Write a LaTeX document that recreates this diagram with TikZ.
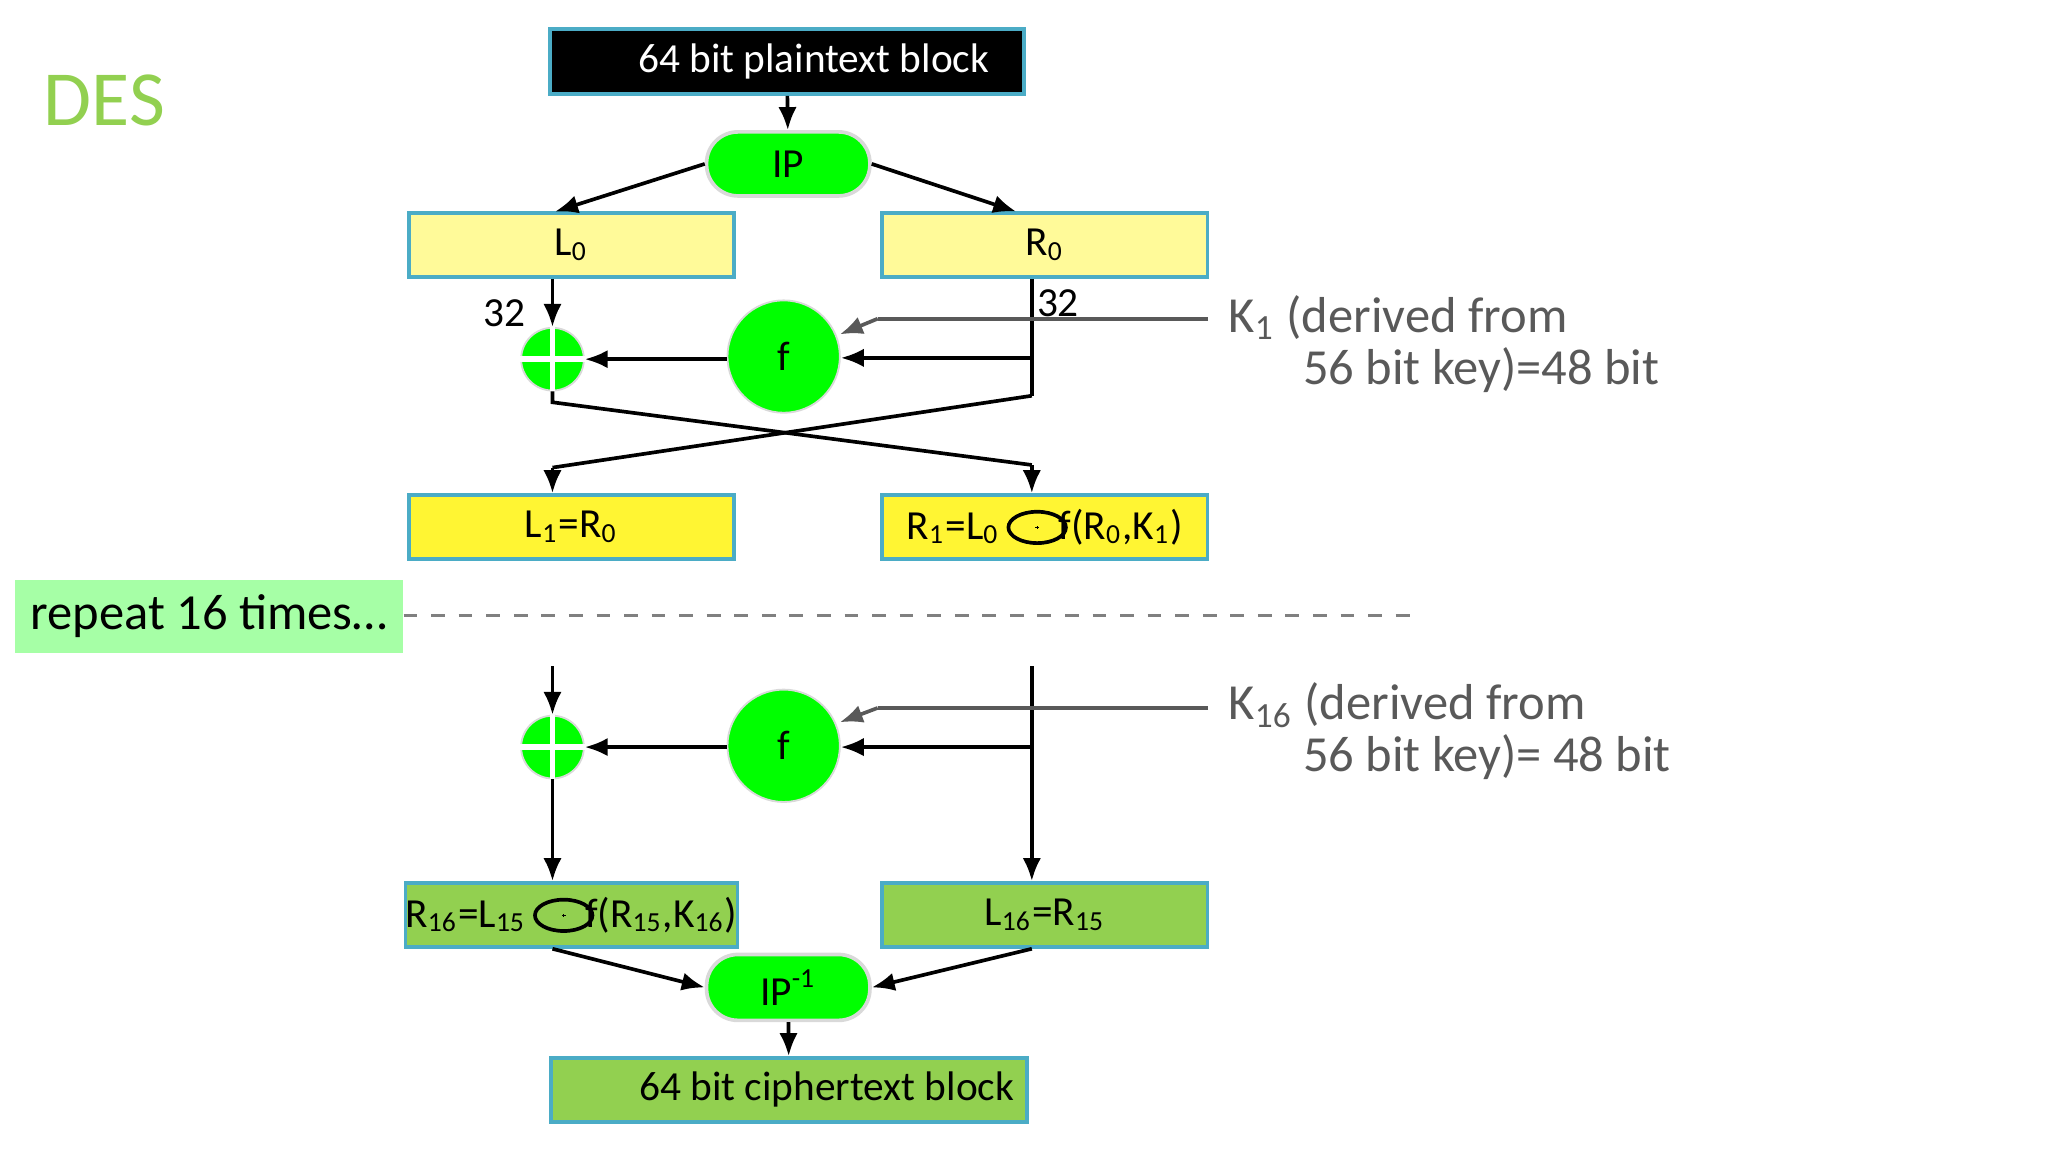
\documentclass[tikz,border=0pt]{standalone}
\usepackage{fontspec}
\setmainfont{Carlito}
\usetikzlibrary{arrows.meta}
\definecolor{desgreen}{HTML}{92D050}
\definecolor{brd}{HTML}{4BACC6}
\definecolor{lime}{HTML}{00FF00}
\definecolor{txtgray}{HTML}{595959}
\newcommand{\xorsym}{\tikz[baseline=-0.6ex]{\draw[line width=0.8pt] (0,0) ellipse (0.22cm and 0.12cm); \draw[line width=0.8pt] (-0.18,0)--(0.18,0) (0,-0.16)--(0,0.16) (0.06,-0.1)--(0.06,0.1);}}
\begin{document}
\begin{tikzpicture}[x=0.01cm,y=-0.01cm,font=\fontsize{9pt}{10pt}\selectfont,
  box/.style={draw=brd,line width=0.8pt,minimum width=2.49cm,minimum height=0.49cm,inner sep=0pt},
  pill/.style={draw=black!15,line width=0.8pt,fill=lime,rounded corners=0.24cm,minimum width=1.25cm,minimum height=0.49cm},
  fc/.style={circle,fill=lime,draw=black!15,minimum size=0.86cm,inner sep=0pt},
  xr/.style={circle,fill=lime,draw=black!15,minimum size=0.48cm,inner sep=0pt},
  arr/.style={-{Latex[length=5pt,width=4pt]},line width=0.8pt},
  ln/.style={line width=0.8pt},
  keyl/.style={draw=txtgray,line width=0.8pt},
  lbl/.style={text=txtgray,font=\fontsize{11pt}{12pt}\selectfont,anchor=west,inner sep=0pt}]
\useasboundingbox (0,0) rectangle (1568,882);
\node[text=desgreen,font=\fontsize{17pt}{18pt}\selectfont] (des) at (80,77) {DES};

% top half
\node[box,fill=black,minimum width=3.63cm,minimum height=0.5cm] (pt) at (602.5,47) {};
\node[text=white] (ptt) at (623,47) {64 bit plaintext block};
\node[pill] (ip) at (603.5,125.5) {IP};
\node[box,fill=yellow!40] (l0) at (437.5,187.5) {L\textsubscript{0}};
\node[box,fill=yellow!40] (r0) at (800,187.5) {R\textsubscript{0}};
\node[xr] (x1) at (423,275) {};
\draw[white,line width=1.2pt] (x1.west)--(x1.east) (x1.north)--(x1.south);
\node[fc] (f1) at (600,273) {f};
\node (n32a) at (386,240) {32};
\node (n32b) at (810,232) {32};
\coordinate (k1s) at (925,244);
\coordinate (k1b) at (672,244);
\coordinate (r0a) at (790,274);
\coordinate (r0b) at (790,303);
\coordinate (x1b) at (423,308);
\node[lbl] (k1) at (940,243) {K\textsubscript{1} (derived from};
\node[lbl] (k1b2) at (997,283) {56 bit key)=48 bit};
\node[box,fill=yellow!80] (l1) at (437.5,403.5) {L\textsubscript{1}=R\textsubscript{0}};
\node[box,fill=yellow!80] (r1) at (800,403.5) {R\textsubscript{1}=L\textsubscript{0}\,\xorsym\hspace{-2pt}f(R\textsubscript{0},K\textsubscript{1})};

\draw[arr] (pt) -- (ip);
\draw[arr] (ip.west) -- (425,162);
\draw[arr] (ip.east) -- (778,162);
\draw[arr] (l0.south -| x1) -- (x1);
\draw[ln] (r0.south -| r0a) -- (r0b);
\draw[arr] (r0a) -- (f1.east |- r0a);
\draw[arr] (f1.west |- x1) -- (x1.east);
\draw[keyl] (k1s) -- (k1b);
\draw[keyl,-{Latex[length=5pt,width=4pt]}] (k1b) -- (643,256);
\draw[ln] (x1.south) -- (x1b) -- (790,356);
\draw[arr] (790,356) -- (l1.north -| r0a);
\draw[ln] (r0b) -- (423,358);
\draw[arr] (423,358) -- (l1.north -| x1);

% repeat
\node[fill=green!35!white,minimum width=2.42cm,minimum height=0.46cm,font=\fontsize{11pt}{12pt}\selectfont] (rep) at (160,472) {repeat 16 times…};
\coordinate (dashend) at (1082,471);
\draw[dashed,gray,line width=0.6pt] (rep.east |- dashend) -- (dashend);

% bottom half
\coordinate (lin) at (423,510);
\coordinate (rin) at (790,510);
\node[xr] (x2) at (423,572) {};
\draw[white,line width=1.2pt] (x2.west)--(x2.east) (x2.north)--(x2.south);
\node[fc] (f2) at (600,571) {f};
\coordinate (k2s) at (925,542);
\coordinate (k2b) at (672,542);
\coordinate (r2a) at (790,572);
\node[lbl] (k16) at (940,540) {K\textsubscript{16} (derived from};
\node[lbl] (k16b) at (997,580) {56 bit key)= 48 bit};
\node[box,fill=desgreen] (r16) at (437.5,700.5) {R\textsubscript{16}=L\textsubscript{15}\,\xorsym\hspace{-2pt}f(R\textsubscript{15},K\textsubscript{16})};
\node[box,fill=desgreen] (l16) at (800,700.5) {L\textsubscript{16}=R\textsubscript{15}};
\node[pill] (ipi) at (603.5,756) {IP\textsuperscript{-1}};
\node[box,fill=desgreen,minimum width=3.64cm] (ct) at (604,834.5) {};
\node (ctt) at (633,834.5) {64 bit ciphertext block};

\draw[arr] (lin) -- (x2);
\draw[arr] (rin) -- (l16.north -| rin);
\draw[arr] (r2a) -- (f2.east |- r2a);
\draw[arr] (f2.west |- x2) -- (x2.east);
\draw[keyl] (k2s) -- (k2b);
\draw[keyl,-{Latex[length=5pt,width=4pt]}] (k2b) -- (643,553);
\draw[arr] (x2.south) -- (r16.north -| x2);
\draw[arr] (r16.south -| x2) -- (ipi.west);
\draw[arr] (l16.south -| rin) -- (ipi.east);
\draw[arr] (ipi) -- (ct);
\end{tikzpicture}
\end{document}
